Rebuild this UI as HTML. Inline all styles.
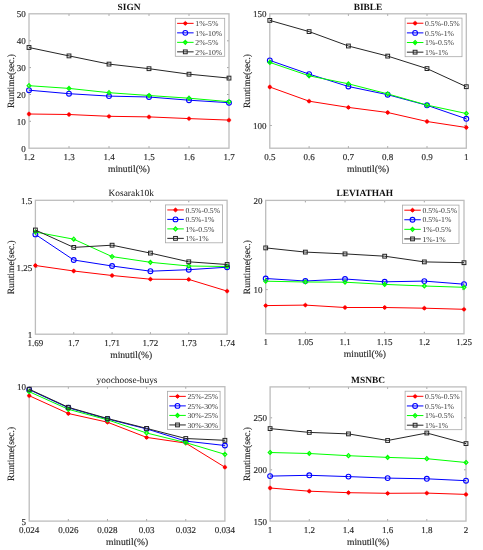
<!DOCTYPE html>
<html><head><meta charset="utf-8"><style>
html,body{margin:0;padding:0;background:#fff;}
body{width:483px;height:550px;overflow:hidden;}
.t{fill:#2a2a2a;stroke:#2a2a2a;stroke-width:0.15px;}
.l{fill:#333;}
svg{display:block;font-family:"Liberation Serif", serif;will-change:transform;text-rendering:geometricPrecision;}
</style></head><body>
<svg width="483" height="550" viewBox="0 0 483 550">
<rect width="483" height="550" fill="#fff"/>
<g><text x="129.00" y="9.9" font-size="9.4" font-weight="bold" text-anchor="middle" fill="#111">SIGN</text><path d="M69.00 13.80v2.0M69.00 148.20v-2.0" stroke="#8a8a8a" stroke-width="0.8"/><path d="M109.00 13.80v2.0M109.00 148.20v-2.0" stroke="#8a8a8a" stroke-width="0.8"/><path d="M149.00 13.80v2.0M149.00 148.20v-2.0" stroke="#8a8a8a" stroke-width="0.8"/><path d="M189.00 13.80v2.0M189.00 148.20v-2.0" stroke="#8a8a8a" stroke-width="0.8"/><path d="M29.00 121.30h2.0M229.00 121.30h-2.0" stroke="#8a8a8a" stroke-width="0.8"/><path d="M29.00 94.50h2.0M229.00 94.50h-2.0" stroke="#8a8a8a" stroke-width="0.8"/><path d="M29.00 67.60h2.0M229.00 67.60h-2.0" stroke="#8a8a8a" stroke-width="0.8"/><path d="M29.00 40.80h2.0M229.00 40.80h-2.0" stroke="#8a8a8a" stroke-width="0.8"/><rect x="29.00" y="13.80" width="200.00" height="134.40" fill="none" stroke="#bdbdbd" stroke-width="1.3"/><text x="29.00" y="159.60" font-size="9.0" text-anchor="middle" class="t">1.2</text><text x="69.00" y="159.60" font-size="9.0" text-anchor="middle" class="t">1.3</text><text x="109.00" y="159.60" font-size="9.0" text-anchor="middle" class="t">1.4</text><text x="149.00" y="159.60" font-size="9.0" text-anchor="middle" class="t">1.5</text><text x="189.00" y="159.60" font-size="9.0" text-anchor="middle" class="t">1.6</text><text x="229.00" y="159.60" font-size="9.0" text-anchor="middle" class="t">1.7</text><text x="25.80" y="151.60" font-size="9.0" text-anchor="end" class="t">0</text><text x="25.80" y="124.70" font-size="9.0" text-anchor="end" class="t">10</text><text x="25.80" y="97.90" font-size="9.0" text-anchor="end" class="t">20</text><text x="25.80" y="71.00" font-size="9.0" text-anchor="end" class="t">30</text><text x="25.80" y="44.20" font-size="9.0" text-anchor="end" class="t">40</text><text x="25.80" y="17.20" font-size="9.0" text-anchor="end" class="t">50</text><text x="129.00" y="171.70" font-size="9.6" text-anchor="middle" class="t">minutil(%)</text><text transform="translate(13.60 81.00) rotate(-90)" x="0" y="0" font-size="9.6" text-anchor="middle" class="t">Runtime(sec.)</text><polyline points="29.00,114.00 69.00,114.50 109.00,116.30 149.00,116.90 189.00,118.60 229.00,120.10" fill="none" stroke="#ff0000" stroke-width="1.0"/><circle cx="29.00" cy="114.00" r="1.9" fill="#ff0000"/><path d="M26.70 114.00H31.30M29.00 111.50V116.50" stroke="#ff0000" stroke-width="0.6"/><circle cx="69.00" cy="114.50" r="1.9" fill="#ff0000"/><path d="M66.70 114.50H71.30M69.00 112.00V117.00" stroke="#ff0000" stroke-width="0.6"/><circle cx="109.00" cy="116.30" r="1.9" fill="#ff0000"/><path d="M106.70 116.30H111.30M109.00 113.80V118.80" stroke="#ff0000" stroke-width="0.6"/><circle cx="149.00" cy="116.90" r="1.9" fill="#ff0000"/><path d="M146.70 116.90H151.30M149.00 114.40V119.40" stroke="#ff0000" stroke-width="0.6"/><circle cx="189.00" cy="118.60" r="1.9" fill="#ff0000"/><path d="M186.70 118.60H191.30M189.00 116.10V121.10" stroke="#ff0000" stroke-width="0.6"/><circle cx="229.00" cy="120.10" r="1.9" fill="#ff0000"/><path d="M226.70 120.10H231.30M229.00 117.60V122.60" stroke="#ff0000" stroke-width="0.6"/><polyline points="29.00,90.20 69.00,93.70 109.00,96.10 149.00,97.00 189.00,100.20 229.00,102.70" fill="none" stroke="#0000ff" stroke-width="1.0"/><circle cx="29.00" cy="90.20" r="2.4" fill="none" stroke="#0000ff" stroke-width="1.1"/><circle cx="69.00" cy="93.70" r="2.4" fill="none" stroke="#0000ff" stroke-width="1.1"/><circle cx="109.00" cy="96.10" r="2.4" fill="none" stroke="#0000ff" stroke-width="1.1"/><circle cx="149.00" cy="97.00" r="2.4" fill="none" stroke="#0000ff" stroke-width="1.1"/><circle cx="189.00" cy="100.20" r="2.4" fill="none" stroke="#0000ff" stroke-width="1.1"/><circle cx="229.00" cy="102.70" r="2.4" fill="none" stroke="#0000ff" stroke-width="1.1"/><polyline points="29.00,85.70 69.00,88.40 109.00,92.70 149.00,95.50 189.00,98.20 229.00,101.70" fill="none" stroke="#00ff00" stroke-width="1.0"/><path d="M29.00 83.70L30.90 85.70L29.00 87.70L27.10 85.70Z" fill="none" stroke="#00ff00" stroke-width="1.2"/><path d="M69.00 86.40L70.90 88.40L69.00 90.40L67.10 88.40Z" fill="none" stroke="#00ff00" stroke-width="1.2"/><path d="M109.00 90.70L110.90 92.70L109.00 94.70L107.10 92.70Z" fill="none" stroke="#00ff00" stroke-width="1.2"/><path d="M149.00 93.50L150.90 95.50L149.00 97.50L147.10 95.50Z" fill="none" stroke="#00ff00" stroke-width="1.2"/><path d="M189.00 96.20L190.90 98.20L189.00 100.20L187.10 98.20Z" fill="none" stroke="#00ff00" stroke-width="1.2"/><path d="M229.00 99.70L230.90 101.70L229.00 103.70L227.10 101.70Z" fill="none" stroke="#00ff00" stroke-width="1.2"/><polyline points="29.00,47.50 69.00,55.90 109.00,64.10 149.00,68.70 189.00,74.20 229.00,78.10" fill="none" stroke="#262626" stroke-width="1.0"/><rect x="27.10" y="45.60" width="3.8" height="3.8" fill="none" stroke="#262626" stroke-width="1.0"/><rect x="67.10" y="54.00" width="3.8" height="3.8" fill="none" stroke="#262626" stroke-width="1.0"/><rect x="107.10" y="62.20" width="3.8" height="3.8" fill="none" stroke="#262626" stroke-width="1.0"/><rect x="147.10" y="66.80" width="3.8" height="3.8" fill="none" stroke="#262626" stroke-width="1.0"/><rect x="187.10" y="72.30" width="3.8" height="3.8" fill="none" stroke="#262626" stroke-width="1.0"/><rect x="227.10" y="76.20" width="3.8" height="3.8" fill="none" stroke="#262626" stroke-width="1.0"/><rect x="175.30" y="18.30" width="49.40" height="38.00" fill="#fff" stroke="#a8a8a8" stroke-width="0.8"/><path d="M177.10 23.35H193.60" stroke="#ff0000" stroke-width="1.0"/><circle cx="185.30" cy="23.35" r="1.9" fill="#ff0000"/><path d="M183.00 23.35H187.60M185.30 20.85V25.85" stroke="#ff0000" stroke-width="0.6"/><text x="195.30" y="26.05" font-size="7.7" class="l">1%-5%</text><path d="M177.10 32.85H193.60" stroke="#0000ff" stroke-width="1.0"/><circle cx="185.30" cy="32.85" r="2.4" fill="none" stroke="#0000ff" stroke-width="1.1"/><text x="195.30" y="35.55" font-size="7.7" class="l">1%-10%</text><path d="M177.10 42.35H193.60" stroke="#00ff00" stroke-width="1.0"/><path d="M185.30 40.35L187.20 42.35L185.30 44.35L183.40 42.35Z" fill="none" stroke="#00ff00" stroke-width="1.2"/><text x="195.30" y="45.05" font-size="7.7" class="l">2%-5%</text><path d="M177.10 51.85H193.60" stroke="#262626" stroke-width="1.0"/><rect x="183.40" y="49.95" width="3.8" height="3.8" fill="none" stroke="#262626" stroke-width="1.0"/><text x="195.30" y="54.55" font-size="7.7" class="l">2%-10%</text></g>
<g><text x="368.05" y="9.9" font-size="9.4" font-weight="bold" text-anchor="middle" fill="#111">BIBLE</text><path d="M309.10 13.80v2.0M309.10 148.20v-2.0" stroke="#8a8a8a" stroke-width="0.8"/><path d="M348.40 13.80v2.0M348.40 148.20v-2.0" stroke="#8a8a8a" stroke-width="0.8"/><path d="M387.70 13.80v2.0M387.70 148.20v-2.0" stroke="#8a8a8a" stroke-width="0.8"/><path d="M427.00 13.80v2.0M427.00 148.20v-2.0" stroke="#8a8a8a" stroke-width="0.8"/><path d="M269.80 125.50h2.0M466.30 125.50h-2.0" stroke="#8a8a8a" stroke-width="0.8"/><rect x="269.80" y="13.80" width="196.50" height="134.40" fill="none" stroke="#bdbdbd" stroke-width="1.3"/><text x="269.80" y="159.60" font-size="9.0" text-anchor="middle" class="t">0.5</text><text x="309.10" y="159.60" font-size="9.0" text-anchor="middle" class="t">0.6</text><text x="348.40" y="159.60" font-size="9.0" text-anchor="middle" class="t">0.7</text><text x="387.70" y="159.60" font-size="9.0" text-anchor="middle" class="t">0.8</text><text x="427.00" y="159.60" font-size="9.0" text-anchor="middle" class="t">0.9</text><text x="466.30" y="159.60" font-size="9.0" text-anchor="middle" class="t">1</text><text x="266.60" y="128.90" font-size="9.0" text-anchor="end" class="t">100</text><text x="266.60" y="17.20" font-size="9.0" text-anchor="end" class="t">150</text><text x="368.05" y="171.70" font-size="9.6" text-anchor="middle" class="t">minutil(%)</text><text transform="translate(250.20 81.00) rotate(-90)" x="0" y="0" font-size="9.6" text-anchor="middle" class="t">Runtime(sec.)</text><polyline points="269.80,87.00 309.10,101.20 348.40,107.40 387.70,112.50 427.00,121.50 466.30,127.50" fill="none" stroke="#ff0000" stroke-width="1.0"/><circle cx="269.80" cy="87.00" r="1.9" fill="#ff0000"/><path d="M267.50 87.00H272.10M269.80 84.50V89.50" stroke="#ff0000" stroke-width="0.6"/><circle cx="309.10" cy="101.20" r="1.9" fill="#ff0000"/><path d="M306.80 101.20H311.40M309.10 98.70V103.70" stroke="#ff0000" stroke-width="0.6"/><circle cx="348.40" cy="107.40" r="1.9" fill="#ff0000"/><path d="M346.10 107.40H350.70M348.40 104.90V109.90" stroke="#ff0000" stroke-width="0.6"/><circle cx="387.70" cy="112.50" r="1.9" fill="#ff0000"/><path d="M385.40 112.50H390.00M387.70 110.00V115.00" stroke="#ff0000" stroke-width="0.6"/><circle cx="427.00" cy="121.50" r="1.9" fill="#ff0000"/><path d="M424.70 121.50H429.30M427.00 119.00V124.00" stroke="#ff0000" stroke-width="0.6"/><circle cx="466.30" cy="127.50" r="1.9" fill="#ff0000"/><path d="M464.00 127.50H468.60M466.30 125.00V130.00" stroke="#ff0000" stroke-width="0.6"/><polyline points="269.80,60.40 309.10,74.10 348.40,86.50 387.70,94.70 427.00,105.30 466.30,118.80" fill="none" stroke="#0000ff" stroke-width="1.0"/><circle cx="269.80" cy="60.40" r="2.4" fill="none" stroke="#0000ff" stroke-width="1.1"/><circle cx="309.10" cy="74.10" r="2.4" fill="none" stroke="#0000ff" stroke-width="1.1"/><circle cx="348.40" cy="86.50" r="2.4" fill="none" stroke="#0000ff" stroke-width="1.1"/><circle cx="387.70" cy="94.70" r="2.4" fill="none" stroke="#0000ff" stroke-width="1.1"/><circle cx="427.00" cy="105.30" r="2.4" fill="none" stroke="#0000ff" stroke-width="1.1"/><circle cx="466.30" cy="118.80" r="2.4" fill="none" stroke="#0000ff" stroke-width="1.1"/><polyline points="269.80,62.40 309.10,75.80 348.40,83.80 387.70,93.90 427.00,105.10 466.30,113.50" fill="none" stroke="#00ff00" stroke-width="1.0"/><path d="M269.80 60.40L271.70 62.40L269.80 64.40L267.90 62.40Z" fill="none" stroke="#00ff00" stroke-width="1.2"/><path d="M309.10 73.80L311.00 75.80L309.10 77.80L307.20 75.80Z" fill="none" stroke="#00ff00" stroke-width="1.2"/><path d="M348.40 81.80L350.30 83.80L348.40 85.80L346.50 83.80Z" fill="none" stroke="#00ff00" stroke-width="1.2"/><path d="M387.70 91.90L389.60 93.90L387.70 95.90L385.80 93.90Z" fill="none" stroke="#00ff00" stroke-width="1.2"/><path d="M427.00 103.10L428.90 105.10L427.00 107.10L425.10 105.10Z" fill="none" stroke="#00ff00" stroke-width="1.2"/><path d="M466.30 111.50L468.20 113.50L466.30 115.50L464.40 113.50Z" fill="none" stroke="#00ff00" stroke-width="1.2"/><polyline points="269.80,20.40 309.10,31.60 348.40,46.00 387.70,56.10 427.00,68.60 466.30,86.70" fill="none" stroke="#262626" stroke-width="1.0"/><rect x="267.90" y="18.50" width="3.8" height="3.8" fill="none" stroke="#262626" stroke-width="1.0"/><rect x="307.20" y="29.70" width="3.8" height="3.8" fill="none" stroke="#262626" stroke-width="1.0"/><rect x="346.50" y="44.10" width="3.8" height="3.8" fill="none" stroke="#262626" stroke-width="1.0"/><rect x="385.80" y="54.20" width="3.8" height="3.8" fill="none" stroke="#262626" stroke-width="1.0"/><rect x="425.10" y="66.70" width="3.8" height="3.8" fill="none" stroke="#262626" stroke-width="1.0"/><rect x="464.40" y="84.80" width="3.8" height="3.8" fill="none" stroke="#262626" stroke-width="1.0"/><rect x="405.10" y="18.10" width="56.90" height="38.60" fill="#fff" stroke="#a8a8a8" stroke-width="0.8"/><path d="M406.90 23.23H423.40" stroke="#ff0000" stroke-width="1.0"/><circle cx="415.10" cy="23.23" r="1.9" fill="#ff0000"/><path d="M412.80 23.23H417.40M415.10 20.73V25.73" stroke="#ff0000" stroke-width="0.6"/><text x="425.10" y="25.93" font-size="7.7" class="l">0.5%-0.5%</text><path d="M406.90 32.88H423.40" stroke="#0000ff" stroke-width="1.0"/><circle cx="415.10" cy="32.88" r="2.4" fill="none" stroke="#0000ff" stroke-width="1.1"/><text x="425.10" y="35.58" font-size="7.7" class="l">0.5%-1%</text><path d="M406.90 42.52H423.40" stroke="#00ff00" stroke-width="1.0"/><path d="M415.10 40.52L417.00 42.52L415.10 44.52L413.20 42.52Z" fill="none" stroke="#00ff00" stroke-width="1.2"/><text x="425.10" y="45.23" font-size="7.7" class="l">1%-0.5%</text><path d="M406.90 52.17H423.40" stroke="#262626" stroke-width="1.0"/><rect x="413.20" y="50.27" width="3.8" height="3.8" fill="none" stroke="#262626" stroke-width="1.0"/><text x="425.10" y="54.88" font-size="7.7" class="l">1%-1%</text></g>
<g><text x="131.25" y="196.4" font-size="9.4" font-weight="normal" text-anchor="middle" fill="#111">Kosarak10k</text><path d="M73.74 200.30v2.0M73.74 334.20v-2.0" stroke="#8a8a8a" stroke-width="0.8"/><path d="M112.08 200.30v2.0M112.08 334.20v-2.0" stroke="#8a8a8a" stroke-width="0.8"/><path d="M150.42 200.30v2.0M150.42 334.20v-2.0" stroke="#8a8a8a" stroke-width="0.8"/><path d="M188.76 200.30v2.0M188.76 334.20v-2.0" stroke="#8a8a8a" stroke-width="0.8"/><path d="M35.40 267.30h2.0M227.10 267.30h-2.0" stroke="#8a8a8a" stroke-width="0.8"/><rect x="35.40" y="200.30" width="191.70" height="133.90" fill="none" stroke="#bdbdbd" stroke-width="1.3"/><text x="35.40" y="345.60" font-size="9.0" text-anchor="middle" class="t">1.69</text><text x="73.74" y="345.60" font-size="9.0" text-anchor="middle" class="t">1.7</text><text x="112.08" y="345.60" font-size="9.0" text-anchor="middle" class="t">1.71</text><text x="150.42" y="345.60" font-size="9.0" text-anchor="middle" class="t">1.72</text><text x="188.76" y="345.60" font-size="9.0" text-anchor="middle" class="t">1.73</text><text x="227.10" y="345.60" font-size="9.0" text-anchor="middle" class="t">1.74</text><text x="32.20" y="337.60" font-size="9.0" text-anchor="end" class="t">1</text><text x="32.20" y="270.70" font-size="9.0" text-anchor="end" class="t">1.25</text><text x="32.20" y="203.70" font-size="9.0" text-anchor="end" class="t">1.5</text><text x="131.25" y="357.70" font-size="9.6" text-anchor="middle" class="t">minutil(%)</text><text transform="translate(13.60 267.25) rotate(-90)" x="0" y="0" font-size="9.6" text-anchor="middle" class="t">Runtime(sec.)</text><polyline points="35.40,265.50 73.74,271.00 112.08,275.50 150.42,279.20 188.76,279.40 227.10,291.10" fill="none" stroke="#ff0000" stroke-width="1.0"/><circle cx="35.40" cy="265.50" r="1.9" fill="#ff0000"/><path d="M33.10 265.50H37.70M35.40 263.00V268.00" stroke="#ff0000" stroke-width="0.6"/><circle cx="73.74" cy="271.00" r="1.9" fill="#ff0000"/><path d="M71.44 271.00H76.04M73.74 268.50V273.50" stroke="#ff0000" stroke-width="0.6"/><circle cx="112.08" cy="275.50" r="1.9" fill="#ff0000"/><path d="M109.78 275.50H114.38M112.08 273.00V278.00" stroke="#ff0000" stroke-width="0.6"/><circle cx="150.42" cy="279.20" r="1.9" fill="#ff0000"/><path d="M148.12 279.20H152.72M150.42 276.70V281.70" stroke="#ff0000" stroke-width="0.6"/><circle cx="188.76" cy="279.40" r="1.9" fill="#ff0000"/><path d="M186.46 279.40H191.06M188.76 276.90V281.90" stroke="#ff0000" stroke-width="0.6"/><circle cx="227.10" cy="291.10" r="1.9" fill="#ff0000"/><path d="M224.80 291.10H229.40M227.10 288.60V293.60" stroke="#ff0000" stroke-width="0.6"/><polyline points="35.40,234.40 73.74,260.00 112.08,266.00 150.42,271.20 188.76,269.70 227.10,267.20" fill="none" stroke="#0000ff" stroke-width="1.0"/><circle cx="35.40" cy="234.40" r="2.4" fill="none" stroke="#0000ff" stroke-width="1.1"/><circle cx="73.74" cy="260.00" r="2.4" fill="none" stroke="#0000ff" stroke-width="1.1"/><circle cx="112.08" cy="266.00" r="2.4" fill="none" stroke="#0000ff" stroke-width="1.1"/><circle cx="150.42" cy="271.20" r="2.4" fill="none" stroke="#0000ff" stroke-width="1.1"/><circle cx="188.76" cy="269.70" r="2.4" fill="none" stroke="#0000ff" stroke-width="1.1"/><circle cx="227.10" cy="267.20" r="2.4" fill="none" stroke="#0000ff" stroke-width="1.1"/><polyline points="35.40,232.00 73.74,239.20 112.08,256.60 150.42,262.30 188.76,266.00 227.10,266.50" fill="none" stroke="#00ff00" stroke-width="1.0"/><path d="M35.40 230.00L37.30 232.00L35.40 234.00L33.50 232.00Z" fill="none" stroke="#00ff00" stroke-width="1.2"/><path d="M73.74 237.20L75.64 239.20L73.74 241.20L71.84 239.20Z" fill="none" stroke="#00ff00" stroke-width="1.2"/><path d="M112.08 254.60L113.98 256.60L112.08 258.60L110.18 256.60Z" fill="none" stroke="#00ff00" stroke-width="1.2"/><path d="M150.42 260.30L152.32 262.30L150.42 264.30L148.52 262.30Z" fill="none" stroke="#00ff00" stroke-width="1.2"/><path d="M188.76 264.00L190.66 266.00L188.76 268.00L186.86 266.00Z" fill="none" stroke="#00ff00" stroke-width="1.2"/><path d="M227.10 264.50L229.00 266.50L227.10 268.50L225.20 266.50Z" fill="none" stroke="#00ff00" stroke-width="1.2"/><polyline points="35.40,230.00 73.74,247.40 112.08,245.20 150.42,253.10 188.76,261.80 227.10,264.50" fill="none" stroke="#262626" stroke-width="1.0"/><rect x="33.50" y="228.10" width="3.8" height="3.8" fill="none" stroke="#262626" stroke-width="1.0"/><rect x="71.84" y="245.50" width="3.8" height="3.8" fill="none" stroke="#262626" stroke-width="1.0"/><rect x="110.18" y="243.30" width="3.8" height="3.8" fill="none" stroke="#262626" stroke-width="1.0"/><rect x="148.52" y="251.20" width="3.8" height="3.8" fill="none" stroke="#262626" stroke-width="1.0"/><rect x="186.86" y="259.90" width="3.8" height="3.8" fill="none" stroke="#262626" stroke-width="1.0"/><rect x="225.20" y="262.60" width="3.8" height="3.8" fill="none" stroke="#262626" stroke-width="1.0"/><rect x="165.50" y="204.90" width="57.10" height="37.90" fill="#fff" stroke="#a8a8a8" stroke-width="0.8"/><path d="M167.30 209.94H183.80" stroke="#ff0000" stroke-width="1.0"/><circle cx="175.50" cy="209.94" r="1.9" fill="#ff0000"/><path d="M173.20 209.94H177.80M175.50 207.44V212.44" stroke="#ff0000" stroke-width="0.6"/><text x="185.50" y="212.64" font-size="7.7" class="l">0.5%-0.5%</text><path d="M167.30 219.41H183.80" stroke="#0000ff" stroke-width="1.0"/><circle cx="175.50" cy="219.41" r="2.4" fill="none" stroke="#0000ff" stroke-width="1.1"/><text x="185.50" y="222.11" font-size="7.7" class="l">0.5%-1%</text><path d="M167.30 228.89H183.80" stroke="#00ff00" stroke-width="1.0"/><path d="M175.50 226.89L177.40 228.89L175.50 230.89L173.60 228.89Z" fill="none" stroke="#00ff00" stroke-width="1.2"/><text x="185.50" y="231.59" font-size="7.7" class="l">1%-0.5%</text><path d="M167.30 238.36H183.80" stroke="#262626" stroke-width="1.0"/><rect x="173.60" y="236.46" width="3.8" height="3.8" fill="none" stroke="#262626" stroke-width="1.0"/><text x="185.50" y="241.06" font-size="7.7" class="l">1%-1%</text></g>
<g><text x="364.85" y="196.4" font-size="9.4" font-weight="bold" text-anchor="middle" fill="#111">LEVIATHAH</text><path d="M305.36 200.40v2.0M305.36 333.80v-2.0" stroke="#8a8a8a" stroke-width="0.8"/><path d="M345.02 200.40v2.0M345.02 333.80v-2.0" stroke="#8a8a8a" stroke-width="0.8"/><path d="M384.68 200.40v2.0M384.68 333.80v-2.0" stroke="#8a8a8a" stroke-width="0.8"/><path d="M424.34 200.40v2.0M424.34 333.80v-2.0" stroke="#8a8a8a" stroke-width="0.8"/><path d="M265.70 289.60h2.0M464.00 289.60h-2.0" stroke="#8a8a8a" stroke-width="0.8"/><rect x="265.70" y="200.40" width="198.30" height="133.40" fill="none" stroke="#bdbdbd" stroke-width="1.3"/><text x="265.70" y="345.20" font-size="9.0" text-anchor="middle" class="t">1</text><text x="305.36" y="345.20" font-size="9.0" text-anchor="middle" class="t">1.05</text><text x="345.02" y="345.20" font-size="9.0" text-anchor="middle" class="t">1.1</text><text x="384.68" y="345.20" font-size="9.0" text-anchor="middle" class="t">1.15</text><text x="424.34" y="345.20" font-size="9.0" text-anchor="middle" class="t">1.2</text><text x="464.00" y="345.20" font-size="9.0" text-anchor="middle" class="t">1.25</text><text x="262.50" y="293.00" font-size="9.0" text-anchor="end" class="t">10</text><text x="262.50" y="203.80" font-size="9.0" text-anchor="end" class="t">20</text><text x="364.85" y="357.30" font-size="9.6" text-anchor="middle" class="t">minutil(%)</text><text transform="translate(250.20 267.10) rotate(-90)" x="0" y="0" font-size="9.6" text-anchor="middle" class="t">Runtime(sec.)</text><polyline points="265.70,305.60 305.36,305.10 345.02,307.50 384.68,307.50 424.34,308.20 464.00,309.30" fill="none" stroke="#ff0000" stroke-width="1.0"/><circle cx="265.70" cy="305.60" r="1.9" fill="#ff0000"/><path d="M263.40 305.60H268.00M265.70 303.10V308.10" stroke="#ff0000" stroke-width="0.6"/><circle cx="305.36" cy="305.10" r="1.9" fill="#ff0000"/><path d="M303.06 305.10H307.66M305.36 302.60V307.60" stroke="#ff0000" stroke-width="0.6"/><circle cx="345.02" cy="307.50" r="1.9" fill="#ff0000"/><path d="M342.72 307.50H347.32M345.02 305.00V310.00" stroke="#ff0000" stroke-width="0.6"/><circle cx="384.68" cy="307.50" r="1.9" fill="#ff0000"/><path d="M382.38 307.50H386.98M384.68 305.00V310.00" stroke="#ff0000" stroke-width="0.6"/><circle cx="424.34" cy="308.20" r="1.9" fill="#ff0000"/><path d="M422.04 308.20H426.64M424.34 305.70V310.70" stroke="#ff0000" stroke-width="0.6"/><circle cx="464.00" cy="309.30" r="1.9" fill="#ff0000"/><path d="M461.70 309.30H466.30M464.00 306.80V311.80" stroke="#ff0000" stroke-width="0.6"/><polyline points="265.70,278.50 305.36,281.00 345.02,279.00 384.68,281.80 424.34,281.10 464.00,284.20" fill="none" stroke="#0000ff" stroke-width="1.0"/><circle cx="265.70" cy="278.50" r="2.4" fill="none" stroke="#0000ff" stroke-width="1.1"/><circle cx="305.36" cy="281.00" r="2.4" fill="none" stroke="#0000ff" stroke-width="1.1"/><circle cx="345.02" cy="279.00" r="2.4" fill="none" stroke="#0000ff" stroke-width="1.1"/><circle cx="384.68" cy="281.80" r="2.4" fill="none" stroke="#0000ff" stroke-width="1.1"/><circle cx="424.34" cy="281.10" r="2.4" fill="none" stroke="#0000ff" stroke-width="1.1"/><circle cx="464.00" cy="284.20" r="2.4" fill="none" stroke="#0000ff" stroke-width="1.1"/><polyline points="265.70,281.20 305.36,282.00 345.02,282.20 384.68,284.40 424.34,286.00 464.00,287.30" fill="none" stroke="#00ff00" stroke-width="1.0"/><path d="M265.70 279.20L267.60 281.20L265.70 283.20L263.80 281.20Z" fill="none" stroke="#00ff00" stroke-width="1.2"/><path d="M305.36 280.00L307.26 282.00L305.36 284.00L303.46 282.00Z" fill="none" stroke="#00ff00" stroke-width="1.2"/><path d="M345.02 280.20L346.92 282.20L345.02 284.20L343.12 282.20Z" fill="none" stroke="#00ff00" stroke-width="1.2"/><path d="M384.68 282.40L386.58 284.40L384.68 286.40L382.78 284.40Z" fill="none" stroke="#00ff00" stroke-width="1.2"/><path d="M424.34 284.00L426.24 286.00L424.34 288.00L422.44 286.00Z" fill="none" stroke="#00ff00" stroke-width="1.2"/><path d="M464.00 285.30L465.90 287.30L464.00 289.30L462.10 287.30Z" fill="none" stroke="#00ff00" stroke-width="1.2"/><polyline points="265.70,247.90 305.36,252.10 345.02,253.90 384.68,256.20 424.34,261.90 464.00,262.70" fill="none" stroke="#262626" stroke-width="1.0"/><rect x="263.80" y="246.00" width="3.8" height="3.8" fill="none" stroke="#262626" stroke-width="1.0"/><rect x="303.46" y="250.20" width="3.8" height="3.8" fill="none" stroke="#262626" stroke-width="1.0"/><rect x="343.12" y="252.00" width="3.8" height="3.8" fill="none" stroke="#262626" stroke-width="1.0"/><rect x="382.78" y="254.30" width="3.8" height="3.8" fill="none" stroke="#262626" stroke-width="1.0"/><rect x="422.44" y="260.00" width="3.8" height="3.8" fill="none" stroke="#262626" stroke-width="1.0"/><rect x="462.10" y="260.80" width="3.8" height="3.8" fill="none" stroke="#262626" stroke-width="1.0"/><rect x="402.50" y="205.10" width="56.50" height="38.30" fill="#fff" stroke="#a8a8a8" stroke-width="0.8"/><path d="M404.30 210.19H420.80" stroke="#ff0000" stroke-width="1.0"/><circle cx="412.50" cy="210.19" r="1.9" fill="#ff0000"/><path d="M410.20 210.19H414.80M412.50 207.69V212.69" stroke="#ff0000" stroke-width="0.6"/><text x="422.50" y="212.89" font-size="7.7" class="l">0.5%-0.5%</text><path d="M404.30 219.76H420.80" stroke="#0000ff" stroke-width="1.0"/><circle cx="412.50" cy="219.76" r="2.4" fill="none" stroke="#0000ff" stroke-width="1.1"/><text x="422.50" y="222.46" font-size="7.7" class="l">0.5%-1%</text><path d="M404.30 229.34H420.80" stroke="#00ff00" stroke-width="1.0"/><path d="M412.50 227.34L414.40 229.34L412.50 231.34L410.60 229.34Z" fill="none" stroke="#00ff00" stroke-width="1.2"/><text x="422.50" y="232.04" font-size="7.7" class="l">1%-0.5%</text><path d="M404.30 238.91H420.80" stroke="#262626" stroke-width="1.0"/><rect x="410.60" y="237.01" width="3.8" height="3.8" fill="none" stroke="#262626" stroke-width="1.0"/><text x="422.50" y="241.61" font-size="7.7" class="l">1%-1%</text></g>
<g><text x="127.05" y="382.8" font-size="9.4" font-weight="normal" text-anchor="middle" fill="#111">yoochoose-buys</text><path d="M68.34 386.70v2.0M68.34 521.10v-2.0" stroke="#8a8a8a" stroke-width="0.8"/><path d="M107.48 386.70v2.0M107.48 521.10v-2.0" stroke="#8a8a8a" stroke-width="0.8"/><path d="M146.62 386.70v2.0M146.62 521.10v-2.0" stroke="#8a8a8a" stroke-width="0.8"/><path d="M185.76 386.70v2.0M185.76 521.10v-2.0" stroke="#8a8a8a" stroke-width="0.8"/><rect x="29.20" y="386.70" width="195.70" height="134.40" fill="none" stroke="#bdbdbd" stroke-width="1.3"/><text x="29.20" y="532.50" font-size="9.0" text-anchor="middle" class="t">0.024</text><text x="68.34" y="532.50" font-size="9.0" text-anchor="middle" class="t">0.026</text><text x="107.48" y="532.50" font-size="9.0" text-anchor="middle" class="t">0.028</text><text x="146.62" y="532.50" font-size="9.0" text-anchor="middle" class="t">0.03</text><text x="185.76" y="532.50" font-size="9.0" text-anchor="middle" class="t">0.032</text><text x="224.90" y="532.50" font-size="9.0" text-anchor="middle" class="t">0.034</text><text x="26.00" y="524.50" font-size="9.0" text-anchor="end" class="t">5</text><text x="26.00" y="390.10" font-size="9.0" text-anchor="end" class="t">10</text><text x="127.05" y="544.60" font-size="9.6" text-anchor="middle" class="t">minutil(%)</text><text transform="translate(13.60 453.90) rotate(-90)" x="0" y="0" font-size="9.6" text-anchor="middle" class="t">Runtime(sec.)</text><polyline points="29.20,395.70 68.34,413.50 107.48,422.20 146.62,437.40 185.76,443.10 224.90,467.20" fill="none" stroke="#ff0000" stroke-width="1.0"/><circle cx="29.20" cy="395.70" r="1.9" fill="#ff0000"/><path d="M26.90 395.70H31.50M29.20 393.20V398.20" stroke="#ff0000" stroke-width="0.6"/><circle cx="68.34" cy="413.50" r="1.9" fill="#ff0000"/><path d="M66.04 413.50H70.64M68.34 411.00V416.00" stroke="#ff0000" stroke-width="0.6"/><circle cx="107.48" cy="422.20" r="1.9" fill="#ff0000"/><path d="M105.18 422.20H109.78M107.48 419.70V424.70" stroke="#ff0000" stroke-width="0.6"/><circle cx="146.62" cy="437.40" r="1.9" fill="#ff0000"/><path d="M144.32 437.40H148.92M146.62 434.90V439.90" stroke="#ff0000" stroke-width="0.6"/><circle cx="185.76" cy="443.10" r="1.9" fill="#ff0000"/><path d="M183.46 443.10H188.06M185.76 440.60V445.60" stroke="#ff0000" stroke-width="0.6"/><circle cx="224.90" cy="467.20" r="1.9" fill="#ff0000"/><path d="M222.60 467.20H227.20M224.90 464.70V469.70" stroke="#ff0000" stroke-width="0.6"/><polyline points="29.20,389.70 68.34,407.80 107.48,419.00 146.62,428.90 185.76,441.10 224.90,445.50" fill="none" stroke="#0000ff" stroke-width="1.0"/><circle cx="29.20" cy="389.70" r="2.4" fill="none" stroke="#0000ff" stroke-width="1.1"/><circle cx="68.34" cy="407.80" r="2.4" fill="none" stroke="#0000ff" stroke-width="1.1"/><circle cx="107.48" cy="419.00" r="2.4" fill="none" stroke="#0000ff" stroke-width="1.1"/><circle cx="146.62" cy="428.90" r="2.4" fill="none" stroke="#0000ff" stroke-width="1.1"/><circle cx="185.76" cy="441.10" r="2.4" fill="none" stroke="#0000ff" stroke-width="1.1"/><circle cx="224.90" cy="445.50" r="2.4" fill="none" stroke="#0000ff" stroke-width="1.1"/><polyline points="29.20,391.70 68.34,409.30 107.48,419.80 146.62,433.00 185.76,442.60 224.90,454.30" fill="none" stroke="#00ff00" stroke-width="1.0"/><path d="M29.20 389.70L31.10 391.70L29.20 393.70L27.30 391.70Z" fill="none" stroke="#00ff00" stroke-width="1.2"/><path d="M68.34 407.30L70.24 409.30L68.34 411.30L66.44 409.30Z" fill="none" stroke="#00ff00" stroke-width="1.2"/><path d="M107.48 417.80L109.38 419.80L107.48 421.80L105.58 419.80Z" fill="none" stroke="#00ff00" stroke-width="1.2"/><path d="M146.62 431.00L148.52 433.00L146.62 435.00L144.72 433.00Z" fill="none" stroke="#00ff00" stroke-width="1.2"/><path d="M185.76 440.60L187.66 442.60L185.76 444.60L183.86 442.60Z" fill="none" stroke="#00ff00" stroke-width="1.2"/><path d="M224.90 452.30L226.80 454.30L224.90 456.30L223.00 454.30Z" fill="none" stroke="#00ff00" stroke-width="1.2"/><polyline points="29.20,389.20 68.34,407.30 107.48,418.50 146.62,428.40 185.76,438.50 224.90,440.30" fill="none" stroke="#262626" stroke-width="1.0"/><rect x="27.30" y="387.30" width="3.8" height="3.8" fill="none" stroke="#262626" stroke-width="1.0"/><rect x="66.44" y="405.40" width="3.8" height="3.8" fill="none" stroke="#262626" stroke-width="1.0"/><rect x="105.58" y="416.60" width="3.8" height="3.8" fill="none" stroke="#262626" stroke-width="1.0"/><rect x="144.72" y="426.50" width="3.8" height="3.8" fill="none" stroke="#262626" stroke-width="1.0"/><rect x="183.86" y="436.60" width="3.8" height="3.8" fill="none" stroke="#262626" stroke-width="1.0"/><rect x="223.00" y="438.40" width="3.8" height="3.8" fill="none" stroke="#262626" stroke-width="1.0"/><rect x="167.50" y="391.30" width="52.60" height="38.10" fill="#fff" stroke="#a8a8a8" stroke-width="0.8"/><path d="M169.30 396.36H185.80" stroke="#ff0000" stroke-width="1.0"/><circle cx="177.50" cy="396.36" r="1.9" fill="#ff0000"/><path d="M175.20 396.36H179.80M177.50 393.86V398.86" stroke="#ff0000" stroke-width="0.6"/><text x="187.50" y="399.06" font-size="7.7" class="l">25%-25%</text><path d="M169.30 405.89H185.80" stroke="#0000ff" stroke-width="1.0"/><circle cx="177.50" cy="405.89" r="2.4" fill="none" stroke="#0000ff" stroke-width="1.1"/><text x="187.50" y="408.59" font-size="7.7" class="l">25%-30%</text><path d="M169.30 415.41H185.80" stroke="#00ff00" stroke-width="1.0"/><path d="M177.50 413.41L179.40 415.41L177.50 417.41L175.60 415.41Z" fill="none" stroke="#00ff00" stroke-width="1.2"/><text x="187.50" y="418.11" font-size="7.7" class="l">30%-25%</text><path d="M169.30 424.94H185.80" stroke="#262626" stroke-width="1.0"/><rect x="175.60" y="423.04" width="3.8" height="3.8" fill="none" stroke="#262626" stroke-width="1.0"/><text x="187.50" y="427.64" font-size="7.7" class="l">30%-30%</text></g>
<g><text x="368.05" y="382.8" font-size="9.4" font-weight="bold" text-anchor="middle" fill="#111">MSNBC</text><path d="M309.28 386.90v2.0M309.28 521.10v-2.0" stroke="#8a8a8a" stroke-width="0.8"/><path d="M348.46 386.90v2.0M348.46 521.10v-2.0" stroke="#8a8a8a" stroke-width="0.8"/><path d="M387.64 386.90v2.0M387.64 521.10v-2.0" stroke="#8a8a8a" stroke-width="0.8"/><path d="M426.82 386.90v2.0M426.82 521.10v-2.0" stroke="#8a8a8a" stroke-width="0.8"/><path d="M270.10 469.80h2.0M466.00 469.80h-2.0" stroke="#8a8a8a" stroke-width="0.8"/><path d="M270.10 417.80h2.0M466.00 417.80h-2.0" stroke="#8a8a8a" stroke-width="0.8"/><rect x="270.10" y="386.90" width="195.90" height="134.20" fill="none" stroke="#bdbdbd" stroke-width="1.3"/><text x="270.10" y="532.50" font-size="9.0" text-anchor="middle" class="t">1</text><text x="309.28" y="532.50" font-size="9.0" text-anchor="middle" class="t">1.2</text><text x="348.46" y="532.50" font-size="9.0" text-anchor="middle" class="t">1.4</text><text x="387.64" y="532.50" font-size="9.0" text-anchor="middle" class="t">1.6</text><text x="426.82" y="532.50" font-size="9.0" text-anchor="middle" class="t">1.8</text><text x="466.00" y="532.50" font-size="9.0" text-anchor="middle" class="t">2</text><text x="266.90" y="524.50" font-size="9.0" text-anchor="end" class="t">150</text><text x="266.90" y="473.20" font-size="9.0" text-anchor="end" class="t">200</text><text x="266.90" y="421.20" font-size="9.0" text-anchor="end" class="t">250</text><text x="368.05" y="544.60" font-size="9.6" text-anchor="middle" class="t">minutil(%)</text><text transform="translate(250.20 454.00) rotate(-90)" x="0" y="0" font-size="9.6" text-anchor="middle" class="t">Runtime(sec.)</text><polyline points="270.10,488.00 309.28,491.20 348.46,492.70 387.64,493.30 426.82,493.10 466.00,494.40" fill="none" stroke="#ff0000" stroke-width="1.0"/><circle cx="270.10" cy="488.00" r="1.9" fill="#ff0000"/><path d="M267.80 488.00H272.40M270.10 485.50V490.50" stroke="#ff0000" stroke-width="0.6"/><circle cx="309.28" cy="491.20" r="1.9" fill="#ff0000"/><path d="M306.98 491.20H311.58M309.28 488.70V493.70" stroke="#ff0000" stroke-width="0.6"/><circle cx="348.46" cy="492.70" r="1.9" fill="#ff0000"/><path d="M346.16 492.70H350.76M348.46 490.20V495.20" stroke="#ff0000" stroke-width="0.6"/><circle cx="387.64" cy="493.30" r="1.9" fill="#ff0000"/><path d="M385.34 493.30H389.94M387.64 490.80V495.80" stroke="#ff0000" stroke-width="0.6"/><circle cx="426.82" cy="493.10" r="1.9" fill="#ff0000"/><path d="M424.52 493.10H429.12M426.82 490.60V495.60" stroke="#ff0000" stroke-width="0.6"/><circle cx="466.00" cy="494.40" r="1.9" fill="#ff0000"/><path d="M463.70 494.40H468.30M466.00 491.90V496.90" stroke="#ff0000" stroke-width="0.6"/><polyline points="270.10,476.10 309.28,475.30 348.46,476.60 387.64,478.10 426.82,478.80 466.00,480.70" fill="none" stroke="#0000ff" stroke-width="1.0"/><circle cx="270.10" cy="476.10" r="2.4" fill="none" stroke="#0000ff" stroke-width="1.1"/><circle cx="309.28" cy="475.30" r="2.4" fill="none" stroke="#0000ff" stroke-width="1.1"/><circle cx="348.46" cy="476.60" r="2.4" fill="none" stroke="#0000ff" stroke-width="1.1"/><circle cx="387.64" cy="478.10" r="2.4" fill="none" stroke="#0000ff" stroke-width="1.1"/><circle cx="426.82" cy="478.80" r="2.4" fill="none" stroke="#0000ff" stroke-width="1.1"/><circle cx="466.00" cy="480.70" r="2.4" fill="none" stroke="#0000ff" stroke-width="1.1"/><polyline points="270.10,452.50 309.28,453.50 348.46,455.70 387.64,457.40 426.82,458.70 466.00,462.50" fill="none" stroke="#00ff00" stroke-width="1.0"/><path d="M270.10 450.50L272.00 452.50L270.10 454.50L268.20 452.50Z" fill="none" stroke="#00ff00" stroke-width="1.2"/><path d="M309.28 451.50L311.18 453.50L309.28 455.50L307.38 453.50Z" fill="none" stroke="#00ff00" stroke-width="1.2"/><path d="M348.46 453.70L350.36 455.70L348.46 457.70L346.56 455.70Z" fill="none" stroke="#00ff00" stroke-width="1.2"/><path d="M387.64 455.40L389.54 457.40L387.64 459.40L385.74 457.40Z" fill="none" stroke="#00ff00" stroke-width="1.2"/><path d="M426.82 456.70L428.72 458.70L426.82 460.70L424.92 458.70Z" fill="none" stroke="#00ff00" stroke-width="1.2"/><path d="M466.00 460.50L467.90 462.50L466.00 464.50L464.10 462.50Z" fill="none" stroke="#00ff00" stroke-width="1.2"/><polyline points="270.10,428.60 309.28,432.40 348.46,433.90 387.64,440.50 426.82,433.00 466.00,443.60" fill="none" stroke="#262626" stroke-width="1.0"/><rect x="268.20" y="426.70" width="3.8" height="3.8" fill="none" stroke="#262626" stroke-width="1.0"/><rect x="307.38" y="430.50" width="3.8" height="3.8" fill="none" stroke="#262626" stroke-width="1.0"/><rect x="346.56" y="432.00" width="3.8" height="3.8" fill="none" stroke="#262626" stroke-width="1.0"/><rect x="385.74" y="438.60" width="3.8" height="3.8" fill="none" stroke="#262626" stroke-width="1.0"/><rect x="424.92" y="431.10" width="3.8" height="3.8" fill="none" stroke="#262626" stroke-width="1.0"/><rect x="464.10" y="441.70" width="3.8" height="3.8" fill="none" stroke="#262626" stroke-width="1.0"/><rect x="405.10" y="391.20" width="56.70" height="38.50" fill="#fff" stroke="#a8a8a8" stroke-width="0.8"/><path d="M406.90 396.31H423.40" stroke="#ff0000" stroke-width="1.0"/><circle cx="415.10" cy="396.31" r="1.9" fill="#ff0000"/><path d="M412.80 396.31H417.40M415.10 393.81V398.81" stroke="#ff0000" stroke-width="0.6"/><text x="425.10" y="399.01" font-size="7.7" class="l">0.5%-0.5%</text><path d="M406.90 405.94H423.40" stroke="#0000ff" stroke-width="1.0"/><circle cx="415.10" cy="405.94" r="2.4" fill="none" stroke="#0000ff" stroke-width="1.1"/><text x="425.10" y="408.64" font-size="7.7" class="l">0.5%-1%</text><path d="M406.90 415.56H423.40" stroke="#00ff00" stroke-width="1.0"/><path d="M415.10 413.56L417.00 415.56L415.10 417.56L413.20 415.56Z" fill="none" stroke="#00ff00" stroke-width="1.2"/><text x="425.10" y="418.26" font-size="7.7" class="l">1%-0.5%</text><path d="M406.90 425.19H423.40" stroke="#262626" stroke-width="1.0"/><rect x="413.20" y="423.29" width="3.8" height="3.8" fill="none" stroke="#262626" stroke-width="1.0"/><text x="425.10" y="427.89" font-size="7.7" class="l">1%-1%</text></g>
</svg>
</body></html>
